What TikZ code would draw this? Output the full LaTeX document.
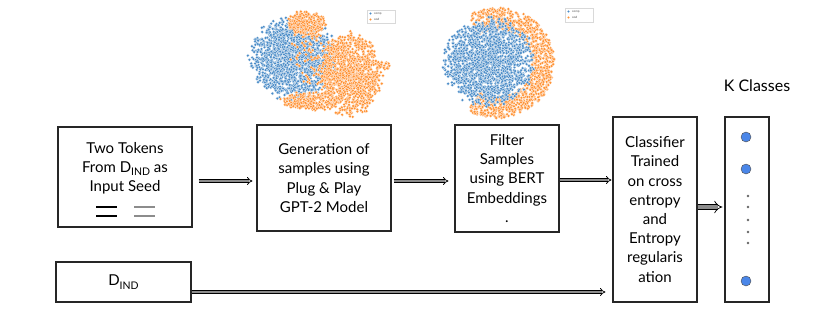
\documentclass[tikz,border=0pt]{standalone}
\usepackage{fontspec}
\setmainfont{Lato}
\usepackage{tikz}
\usetikzlibrary{arrows.meta}
\definecolor{bluec}{HTML}{4A8CC8}
\definecolor{orangec}{HTML}{FF9233}
\definecolor{classc}{HTML}{4A86E8}
\definecolor{pipec}{HTML}{8C8C8C}
\newcommand{\dind}{D\raisebox{-0.45ex}{\fontsize{10.5}{10.5}\selectfont IND}}

\begin{document}
\begin{tikzpicture}[x=1pt, y=-1pt,
  box/.style={draw=black!85, line width=1.1pt, fill=white, inner sep=0pt, align=center,
    font=\fontsize{15}{19.2}\selectfont},
  flow/.style={draw=black, line width=0.75pt, double=pipec, double distance=2pt, -{Implies}},
  bigflow/.style={draw=black, line width=0.75pt, double=pipec, double distance=3.6pt, -{Implies}},
  dotb/.style={fill=bluec, draw=white, line width=0.15pt},
  doto/.style={fill=orangec, draw=white, line width=0.15pt},
  legend/.style={font=\fontsize{3}{3}\selectfont, anchor=west, inner sep=0pt, text=black!70}]
  \useasboundingbox (0,0) rectangle (814,333);

  \pgfmathsetseed{42}
  \foreach \i in {1,...,1500} {
    \pgfmathsetmacro\r{rnd^0.6*(0.85+0.3*rnd)}\pgfmathsetmacro\a{360*rnd}
    \filldraw[dotb] ({293+40*\r*cos(\a)},{58+38*\r*sin(\a)}) circle (1.6);
  }
  \foreach \i in {1,...,1200} {
    \pgfmathsetmacro\r{rnd^0.6*(0.85+0.3*rnd)}\pgfmathsetmacro\a{360*rnd}
    \filldraw[doto] ({350+30*\r*cos(\a)},{74+38*\r*sin(\a)}) circle (1.6);
  }
  \foreach \i in {1,...,300} {
    \pgfmathsetmacro\r{rnd^0.6*(0.85+0.3*rnd)}\pgfmathsetmacro\a{360*rnd}
    \filldraw[doto] ({306+18*\r*cos(\a)},{24+12*\r*sin(\a)}) circle (1.6);
  }
  \foreach \i in {1,...,250} {
    \pgfmathsetmacro\r{rnd^0.6*(0.85+0.3*rnd)}\pgfmathsetmacro\a{360*rnd}
    \filldraw[doto] ({310+28*\r*cos(\a)},{101+9*\r*sin(\a)}) circle (1.6);
  }
  \foreach \i in {1,...,20} {
    \pgfmathsetmacro\r{rnd^0.6}\pgfmathsetmacro\a{360*rnd}
    \filldraw[doto] ({384+6*\r*cos(\a)},{66+4*\r*sin(\a)}) circle (1.6);
  }
  \foreach \i in {1,...,90} {
    \pgfmathsetmacro\r{rnd^0.6}\pgfmathsetmacro\a{360*rnd}
    \filldraw[doto] ({312+22*\r*cos(\a)},{55+30*\r*sin(\a)}) circle (1.6);
  }
  \draw[black!15, fill=white] (367,10) rectangle (395,23);
  \fill[bluec] (370.5,13.5) circle (1.2);
  \fill[orangec] (370.5,19.5) circle (1.2);
  \node[legend] at (374,13.5) {comp};
  \node[legend] at (374,19.5) {ood};

  \foreach \i in {1,...,1100} {
    \pgfmathsetmacro\r{0.7+0.45*rnd}\pgfmathsetmacro\a{-120+240*rnd}
    \filldraw[doto] ({497+50*\r*cos(\a)},{63+48*\r*sin(\a)}) circle (1.6);
  }
  \foreach \i in {1,...,1700} {
    \pgfmathsetmacro\r{rnd^0.6*(0.85+0.3*rnd)}\pgfmathsetmacro\a{360*rnd}
    \filldraw[dotb] ({489+42*\r*cos(\a)},{62+40*\r*sin(\a)}) circle (1.6);
  }
  \draw[black!15, fill=white] (565,8) rectangle (593,22);
  \fill[bluec] (568.5,11.5) circle (1.2);
  \fill[orangec] (568.5,17.5) circle (1.2);
  \node[legend] at (572,11.5) {comp};
  \node[legend] at (572,17.5) {ood};

  \node[box, minimum width=134, minimum height=100] (seed) at (125,177) {};
  \node[align=center, font=\fontsize{15}{19.2}\selectfont] (seedtxt) at (125,168)
    {Two Tokens\\From \dind{} as\\Input Seed};
  \draw[black, line width=1.2pt] (96,207) -- (117,207) (96,216) -- (117,216);
  \draw[black!45, line width=1.2pt] (134,207) -- (155,207) (134,216) -- (155,216);
  \node[box, minimum width=134, minimum height=106] (gen) at (324,178)
    {Generation of\\samples using\\Plug \& Play\\GPT-2 Model};
  \node[box, minimum width=104, minimum height=107] (filt) at (507,178.5)
    {Filter\\Samples\\using BERT\\Embeddings\\.};
  \node[box, minimum width=84, minimum height=185] (clf) at (655,209.5)
    {Classifier\\Trained\\on cross\\entropy\\and\\Entropy\\regularis\\ation};
  \node[box, minimum width=44, minimum height=185] (kcls) at (747,209.5) {};
  \node[box, minimum width=135, minimum height=40] (dind) at (123.5,282) {\dind};
  \node[font=\fontsize{16}{16}\selectfont] (ktitle) at (757,86) {K Classes};

  \node[circle, draw=black!70, fill=classc, minimum size=10, inner sep=0pt] (k1) at (746,137) {};
  \node[circle, draw=black!70, fill=classc, minimum size=10, inner sep=0pt] (k2) at (746,169) {};
  \node[circle, draw=black!70, fill=classc, minimum size=10, inner sep=0pt] (k3) at (746,281) {};
  \foreach \y in {196,207,220,232,243}
    \fill[black!60] (748,\y) circle (1.3);

  \draw[flow, shorten <=6pt, shorten >=4pt] ([yshift=-4pt]seed.east) -- ([yshift=-4pt]seed.east -| gen.west);
  \draw[flow, shorten <=2pt, shorten >=6pt] ([yshift=-3pt]gen.east) -- ([yshift=-3pt]gen.east -| filt.west);
  \draw[flow, shorten >=1pt] ([yshift=-1.5pt]filt.east) -- ([yshift=-1.5pt]filt.east -| clf.west);
  \draw[bigflow, shorten >=2pt] ([yshift=2.5pt]clf.east) -- ([yshift=2.5pt]clf.east -| kcls.west);
  \draw[flow, shorten >=7pt] ([yshift=-10pt]dind.east) -- ([yshift=-10pt]dind.east -| clf.west);
\end{tikzpicture}
\end{document}
